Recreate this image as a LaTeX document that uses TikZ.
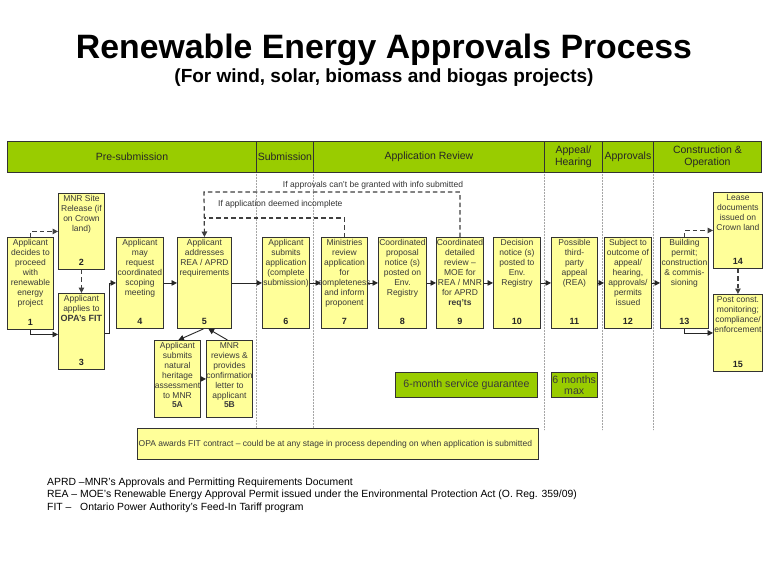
\documentclass[tikz,border=0pt]{standalone}
\usepackage{fontspec}
\setmainfont{Liberation Sans}
\usetikzlibrary{arrows.meta}
\definecolor{grn}{HTML}{99CC00}
\definecolor{ylw}{HTML}{FFFF99}
\definecolor{bline}{HTML}{333333}
\definecolor{txt}{HTML}{3A3A3A}
\tikzset{
  ybox/.style={draw=bline, fill=ylw, line width=0.9pt, inner sep=0pt},
  gbox/.style={draw=bline, fill=grn, line width=0.9pt, inner sep=1pt, align=center, font=\fontsize{10.6}{11}\selectfont, text=txt},
  hdr/.style={draw=bline, fill=grn, line width=0.9pt, inner sep=1pt, align=center, font=\fontsize{10.5}{12.5}\selectfont, text=black!85},
  btxt/.style={font=\fontsize{8.5}{10.1}\selectfont, align=center, text=txt, inner sep=2pt},
  bnum/.style={font=\fontsize{9}{10}\selectfont\bfseries, text=black!85, inner sep=2pt, yshift=2pt},
  arr/.style={-{Triangle[length=5.5pt,width=5.5pt]}, line width=0.9pt, draw=black!85},
  dline/.style={line width=1.2pt, draw=black!75, dash pattern=on 4.5pt off 3pt},
  darr/.style={dline, -{Triangle[length=5.5pt,width=5.5pt]}},
  sep/.style={draw=gray!70, line width=0.5pt, dash pattern=on 0.6pt off 0.9pt},
  lbl/.style={font=\fontsize{8.5}{9}\selectfont, text=black!80, inner sep=0pt}
}
\newcommand{\stagebox}[7]{%
  \node[ybox, anchor=north west, minimum width=#4pt, minimum height=#5pt] (#1) at (#2,#3) {};
  \node[btxt, anchor=north] at (#1.north) {#6};
  \node[bnum, anchor=south] at (#1.south) {#7};
}
\begin{document}
\begin{tikzpicture}[x=1pt,y=-1pt]
\useasboundingbox (0,0) rectangle (768,576);
\fill[white] (0,0) rectangle (768,576);

% titles
\node[font=\fontsize{33.8}{36}\selectfont\bfseries] (title) at (384,50) {Renewable Energy Approvals Process};
\node[font=\fontsize{19}{21}\selectfont\bfseries] (subtitle) at (384,78) {(For wind, solar, biomass and biogas projects)};

% separators
\foreach \xx in {256,313,544,602,653} \draw[sep] (\xx,172) -- (\xx,430);

% header
\node[hdr, anchor=north west, minimum width=249pt, minimum height=31pt] (h1) at (7,141) {Pre-submission};
\node[hdr, anchor=north west, minimum width=57pt, minimum height=31pt] (h2) at (256,141) {Submission};
\node[hdr, anchor=north west, minimum width=231pt, minimum height=31pt] (h3) at (313,141) {Application Review};
\node[hdr, anchor=north west, minimum width=58pt, minimum height=31pt] (h4) at (544,141) {Appeal/\\Hearing};
\node[hdr, anchor=north west, minimum width=51pt, minimum height=31pt] (h5) at (602,141) {Approvals};
\node[hdr, anchor=north west, minimum width=108pt, minimum height=31pt] (h6) at (653,141) {Construction \&\\Operation};

% stage boxes
\stagebox{b1}{7}{237}{46}{92}{Applicant\\decides to\\proceed\\with\\renewable\\energy\\project}{1}
\stagebox{b2}{58}{193}{46}{76}{MNR Site\\Release (if\\on Crown\\land)}{2}
\stagebox{b3}{58}{293}{46}{76}{Applicant\\applies to\\{\fontsize{9}{10}\selectfont\bfseries OPA's FIT}}{3}
\stagebox{b4}{116}{237}{47}{91}{Applicant\\may\\request\\coordinated\\scoping\\meeting}{4}
\stagebox{b5}{177}{237}{54}{91}{Applicant\\addresses\\REA / APRD\\requirements}{5}
\stagebox{b5a}{154}{340}{46}{77}{Applicant\\submits\\natural\\heritage\\assessment\\to MNR\\[-1.5pt]{\bfseries 5A}}{}
\stagebox{b5b}{206}{340}{46}{77}{MNR\\reviews \&\\provides\\confirmation\\letter to\\applicant\\[-1.5pt]{\bfseries 5B}}{}
\stagebox{b6}{262}{237}{47}{91}{Applicant\\submits\\application\\(complete\\submission)}{6}
\stagebox{b7}{321}{237}{46}{91}{Ministries\\review\\application\\for\\completeness\\and inform\\proponent}{7}
\stagebox{b8}{378}{237}{48}{91}{Coordinated\\proposal\\notice (s)\\posted on\\Env.\\Registry}{8}
\stagebox{b9}{436}{237}{47}{91}{Coordinated\\detailed\\review –\\MOE for\\REA / MNR\\for APRD\\{\bfseries req'ts}}{9}
\stagebox{b10}{493}{237}{47}{91}{Decision\\notice (s)\\posted to\\Env.\\Registry}{10}
\stagebox{b11}{551}{237}{46}{91}{Possible\\third-\\party\\appeal\\(REA)}{11}
\stagebox{b12}{604}{237}{47}{91}{Subject to\\outcome of\\appeal/\\hearing,\\approvals/\\permits\\issued}{12}
\stagebox{b13}{660}{237}{48}{91}{Building\\permit;\\construction\\\& commis-\\sioning}{13}
\stagebox{b14}{713}{192}{49}{76}{Lease\\documents\\issued on\\Crown land}{14}
\stagebox{b15}{713}{294}{49}{77}{Post const.\\monitoring;\\compliance/\\enforcement}{15}

% green notes
\node[gbox, anchor=north west, minimum width=142pt, minimum height=25pt] (g1) at (395,372) {6-month service guarantee};
\node[gbox, anchor=north west, minimum width=44pt, minimum height=25pt] (g2) at (551,372) {6 months\\max};

% OPA box
\node[ybox, anchor=north west, minimum width=401pt, minimum height=31pt] (opa) at (137,428) {};
\node[btxt, anchor=west, inner sep=1.5pt] (opat) at (opa.west) {OPA awards FIT contract – could be at any stage in process depending on when application is submitted};

% connectors
\draw[darr] (b1.north) |- (b2.west);
\draw[arr] (b1.south) |- ([yshift=-3pt]b3.west);
\draw[darr] (b2.south) -- (b3.north);
\draw[arr] ([yshift=-2pt]b3.east) -- ++(5pt,0) |- (b4.west);
\draw[arr] (b4.east) -- (b5.west);
\draw[arr] (b5.east) -- (b6.west);
\draw[arr] (b6.east) -- (b7.west);
\draw[arr] (b7.east) -- (b8.west);
\draw[arr] (b8.east) -- (b9.west);
\draw[arr] (b9.east) -- (b10.west);
\draw[arr] (b10.east) -- (b11.west);
\draw[arr] (b11.east) -- (b12.west);
\draw[arr] (b12.east) -- (b13.west);
\draw[arr] ([xshift=-1pt]b5.south) -- ([xshift=1pt]b5a.north);
\draw[arr] ([xshift=-2pt]b5b.north) -- ([xshift=4pt]b5.south);
\draw[arr] (b5a.east) -- (b5b.west);
\draw[darr] (b13.north) |- (b14.west);
\draw[arr] (b13.south) |- (b15.west);
\draw[darr] (b14.south) -- (b15.north);

% feedback loops
\coordinate (fbA) at (204,218);
\coordinate (fbB) at (204,192);
\draw[dline] (b7.north) |- (fbA);
\draw[darr] (b9.north) |- (fbB) -- (b5.north);
\node[lbl, anchor=south] (l1) at (373,189) {If approvals can't be granted with info submitted};
\node[lbl, anchor=west] (l2) at (218,204) {If application deemed incomplete};

% footnotes
\begin{scope}[font=\fontsize{10.4}{11}\selectfont]
\node[anchor=base west, inner sep=0pt] (f1) at (47,485) {APRD –MNR's Approvals and Permitting Requirements Document};
\node[anchor=base west, inner sep=0pt] (f2a) at (47,497.5) {REA –};
\node[anchor=base west, inner sep=0pt] (f2b) at (80,497.5) {MOE's Renewable Energy Approval Permit issued under the Environmental Protection Act (O. Reg. 359/09)};
\node[anchor=base west, inner sep=0pt] (f3a) at (47,510) {FIT –};
\node[anchor=base west, inner sep=0pt] (f3b) at (80,510) {Ontario Power Authority's Feed-In Tariff program};
\end{scope}
\end{tikzpicture}
\end{document}
